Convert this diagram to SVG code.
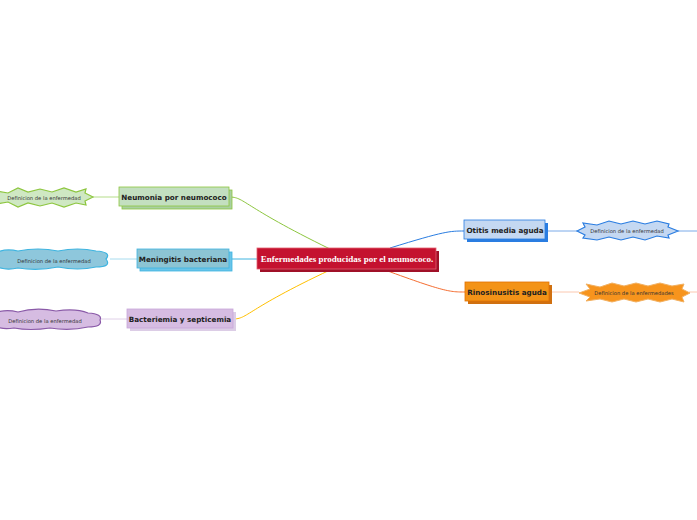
<svg xmlns="http://www.w3.org/2000/svg" width="697" height="520" viewBox="0 0 697 520">
<style>
.t{font-family:"DejaVu Sans","Liberation Sans",sans-serif;font-weight:bold;font-size:7.2px;fill:#222}
.s{font-family:"DejaVu Sans","Liberation Sans",sans-serif;font-size:5.2px;fill:#333}
.c{fill:none;stroke-width:1}
</style>
<rect width="697" height="520" fill="#fff"/>
<g id="connectors">
<path class="c" stroke="#8dc63f" d="M229,197 C245,197 240,205 330,249"/>
<path class="c" stroke="#3eb4e0" d="M229,259 L257,259"/>
<path class="c" stroke="#ffc000" d="M233,319 C248,319 245,310 330,270"/>
<path class="c" stroke="#2a7de1" d="M390,248 C445,231 450,231 464,231"/>
<path class="c" stroke="#f56e32" d="M385,270 C445,292 450,292 465,292"/>
<path class="c" stroke="#b5dd8a" d="M119,197 L93,197"/>
<path class="c" stroke="#a8dcef" d="M137,259 L110,259"/>
<path class="c" stroke="#e0d0e8" d="M127,319 L101,319"/>
<path class="c" stroke="#7aaae8" d="M545,231 L577,231 M678,231 L697,231"/>
<path class="c" stroke="#fbc8b0" d="M549,292 L579,292 M689,292 L697,292"/>
</g>
<g id="center">
<rect x="260" y="251" width="179" height="21" fill="#a01028"/>
<rect x="257" y="248" width="179" height="21" fill="#c4122f" stroke="#e46070" stroke-width="0.8"/>
<text x="347" y="262" text-anchor="middle" font-family="Liberation Serif,serif" font-weight="bold" font-size="9px" fill="#fff">Enfermedades producidas por el neumococo.</text>
</g>
<g id="neumonia">
<rect x="122" y="190" width="110" height="19" fill="#a9cfa2" stroke="#8dc63f" stroke-width="0.8"/>
<rect x="119" y="187" width="110" height="19" fill="#c3dfc0" stroke="#8dc63f" stroke-width="0.8"/>
<text class="t" x="174" y="199.5" text-anchor="middle">Neumonia por neumococo</text>
</g>
<g id="meningitis">
<rect x="140" y="252" width="92" height="19" fill="#6ac4e8" stroke="#3eb4e0" stroke-width="0.8"/>
<rect x="137" y="249" width="92" height="19" fill="#8cc4d4" stroke="#3eb4e0" stroke-width="0.8"/>
<text class="t" x="183" y="261.5" text-anchor="middle" fill="#2a4a5a">Meningitis bacteriana</text>
</g>
<g id="bacteriemia">
<rect x="130" y="312" width="106" height="19" fill="#dccde6"/>
<rect x="127" y="309" width="106" height="19" fill="#d6bce2" stroke="#c9a6da" stroke-width="0.8"/>
<text class="t" x="180" y="321.5" text-anchor="middle" fill="#2a1a3a">Bacteriemia y septicemia</text>
</g>
<g id="otitis">
<rect x="467" y="223" width="81" height="19" fill="#2a7de1"/>
<rect x="464" y="220" width="81" height="19" fill="#c4d8f2" stroke="#2a7de1" stroke-width="0.8"/>
<text class="t" x="505" y="232.5" text-anchor="middle">Otitis media aguda</text>
</g>
<g id="rinosinusitis">
<rect x="468" y="285" width="84" height="19" fill="#d07010"/>
<rect x="465" y="282" width="84" height="19" fill="#f39317" stroke="#e07000" stroke-width="0.8"/>
<text class="t" x="507" y="294.5" text-anchor="middle">Rinosinusitis aguda</text>
</g>
<g id="def-neumonia">
<polygon points="-4,191 8,193 18,188 28,192 40,189 52,192 64,188 76,192 86,189 85,193 93,197 85,201 86,205 76,203 64,207 52,203 40,206 28,203 18,207 8,202 -4,204" fill="#cfe8c3" stroke="#8dc63f" stroke-width="1.2"/>
<text class="s" x="44" y="199.5" text-anchor="middle">Definicion de la enfermedad</text>
</g>
<g id="def-meningitis">
<path d="M-5,253 Q5,248 18,251 Q38,247 58,251 Q78,247 96,251 Q112,252 106,259 Q112,267 96,267 Q78,271 58,267 Q38,271 18,268 Q5,271 -5,266 Z" fill="#8ec7dc" stroke="#3eb4e0" stroke-width="1.2"/>
<text class="s" x="54" y="262.5" text-anchor="middle">Definicion de la enfermedad</text>
</g>
<g id="def-bacteriemia">
<path d="M-5,313 Q5,309 18,312 Q36,307 56,311 Q76,308 88,313 Q103,314 100,320 Q103,327 88,327 Q70,331 50,328 Q30,331 14,328 Q2,330 -5,326 Z" fill="#d6bce2" stroke="#8a5aa8" stroke-width="1.2"/>
<text class="s" x="45" y="322.5" text-anchor="middle">Definicion de la enfermedad</text>
</g>
<g id="def-otitis">
<polygon points="577,231 585,227 583,223 597,225 609,221 621,224 633,221 645,224 657,221 669,224 668,227 678,231 668,235 669,238 657,236 645,240 633,237 621,240 609,237 597,240 583,238 585,235" fill="#c4d8f2" stroke="#2a7de1" stroke-width="1.2"/>
<text class="s" x="627" y="233" text-anchor="middle">Definicion de la enfermedad</text>
</g>
<g id="def-rino">
<polygon points="579,293 590,289 586,284 600,287 612,283 624,286 636,283 648,286 660,283 672,286 684,284 682,289 690,293 682,297 684,302 672,299 660,302 648,299 636,302 624,299 612,302 600,299 586,301 590,297" fill="#f7941d" stroke="#f2b060" stroke-width="1"/>
<text class="s" x="634" y="295" text-anchor="middle">Definicion de la enfermedades</text>
</g>
</svg>
